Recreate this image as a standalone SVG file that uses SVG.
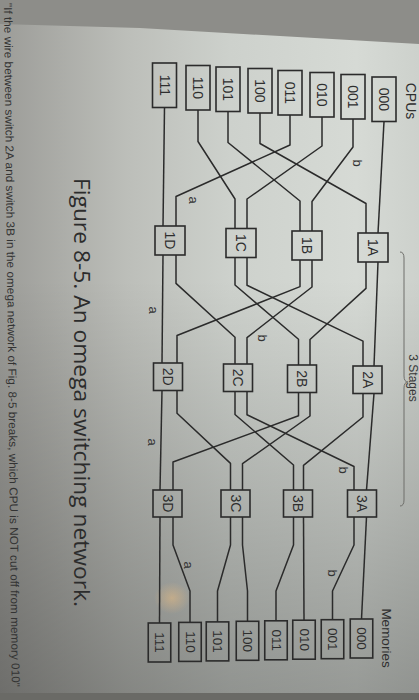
<svg xmlns="http://www.w3.org/2000/svg" width="419" height="700" viewBox="0 0 419 700">
<defs>
  <linearGradient id="bgH" x1="0" y1="0" x2="1" y2="0">
    <stop offset="0" stop-color="#9c9c98"/>
    <stop offset="0.3" stop-color="#bcbeb9"/>
    <stop offset="0.55" stop-color="#cdd1cc"/>
    <stop offset="0.85" stop-color="#d6dad5"/>
    <stop offset="1" stop-color="#cdd1cc"/>
  </linearGradient>
  <linearGradient id="bgV" x1="0" y1="0" x2="0" y2="1">
    <stop offset="0" stop-color="#000" stop-opacity="0"/>
    <stop offset="0.4" stop-color="#000" stop-opacity="0"/>
    <stop offset="1" stop-color="#000" stop-opacity="0.3"/>
  </linearGradient>
  <radialGradient id="glare" cx="0.5" cy="0.5" r="0.5">
    <stop offset="0" stop-color="#f6c27e" stop-opacity="0.45"/>
    <stop offset="1" stop-color="#f6c27e" stop-opacity="0"/>
  </radialGradient>
</defs>
<style>
  .box{fill:none;stroke:#2b2b2b;stroke-width:1.6}
  .w{fill:none;stroke:#2b2b2b;stroke-width:1.5;stroke-linejoin:round}
  .lbl{font-family:"Liberation Sans",Arial,sans-serif;font-size:14px;fill:#2e2e2e;text-anchor:middle;dominant-baseline:central}
  .mem{font-size:13.5px}
  .stg{font-size:12px;fill:#3a3a3a}
  .tag{font-family:"Liberation Sans",Arial,sans-serif;font-size:13px;fill:#333;text-anchor:middle;dominant-baseline:central}
  .title{font-family:"Open Sans","DejaVu Sans",sans-serif;font-size:21px;fill:#2c2c2c}
  .q{font-family:"Liberation Sans",Arial,sans-serif;font-size:11.5px;fill:#333}
</style>

<!-- background (photo of page) -->
<rect x="0" y="0" width="419" height="700" fill="url(#bgH)"/>
<rect x="0" y="0" width="419" height="700" fill="url(#bgV)"/>
<polygon points="0,0 419,0 419,44 140,28 0,24" fill="#8d8d89"/>
<rect x="0" y="693" width="419" height="7" fill="#6a6a66"/>
<ellipse cx="172" cy="598" rx="18" ry="16" fill="url(#glare)"/>

<!-- connectors -->
<g id="connectors">
  <!-- CPUs to stage 1 -->
  <path class="w" d="M384 121.5 L378 233"/>
  <path class="w" d="M353 119 V147 L312 201.5 V231"/>
  <path class="w" d="M322 117 V146 L247 199 V228.5"/>
  <path class="w" d="M290 115 V145 L176 196.5 V226"/>
  <path class="w" d="M260 113 V143.5 L366 203.5 V233"/>
  <path class="w" d="M228 111.5 V142.5 L300 201 V231"/>
  <path class="w" d="M198 110 V141.5 L235 199 V228.5"/>
  <path class="w" d="M164.5 107.5 L163 226"/>
  <!-- stage 1 to stage 2 -->
  <path class="w" d="M378 262 L374 366"/>
  <path class="w" d="M366 262 V288.4 L310 339.5 V365"/>
  <path class="w" d="M312 260 V287 L247 337.6 V364"/>
  <path class="w" d="M300 260 V286.6 L177 335.5 V363"/>
  <path class="w" d="M247 257.5 V285.3 L363 341.1 V366"/>
  <path class="w" d="M235 257.5 V285 L298.5 339.2 V365"/>
  <path class="w" d="M176 255 V283.4 L235 337.3 V364"/>
  <path class="w" d="M163 255 L162 363"/>
  <!-- stage 2 to stage 3 -->
  <path class="w" d="M374 393.5 L366.5 490"/>
  <path class="w" d="M363 393.5 V417 L303.5 465.3 V490"/>
  <path class="w" d="M310 392.5 V416 L242.5 463.7 V490"/>
  <path class="w" d="M298.5 392.5 V415.8 L173 462 V490"/>
  <path class="w" d="M247 391.5 V414.7 L354 466.5 V490"/>
  <path class="w" d="M235 391.5 V414.5 L293.5 465 V490"/>
  <path class="w" d="M177 390.5 V413.3 L230.5 463.4 V490"/>
  <path class="w" d="M162 390.5 L160 490"/>
  <!-- stage 3 to memories -->
  <path class="w" d="M160 517 L159.5 623"/>
  <path class="w" d="M173 517 V545 L190 591 V622.4"/>
  <path class="w" d="M230.5 517 V545 L217.5 591 V621.9"/>
  <path class="w" d="M242.5 517 V545 L247.5 591 V621.3"/>
  <path class="w" d="M293.5 517 V545 L276 591 V620.8"/>
  <path class="w" d="M303.5 517 L304 620.2"/>
  <path class="w" d="M354 517 V545 L332.5 591 V619.7"/>
  <path class="w" d="M366.5 517 L361.5 619"/>
  <!-- path labels -->
  <text class="tag" transform="translate(193,200) rotate(90)">a</text>
  <text class="tag" transform="translate(153,310) rotate(90)">a</text>
  <text class="tag" transform="translate(152,442) rotate(90)">a</text>
  <text class="tag" transform="translate(188,565) rotate(90)">a</text>
  <text class="tag" transform="translate(357,163) rotate(90)">b</text>
  <text class="tag" transform="translate(262,338) rotate(90)">b</text>
  <text class="tag" transform="translate(343,470) rotate(90)">b</text>
  <text class="tag" transform="translate(332,573) rotate(90)">b</text>
</g>

<!-- CPUs -->
<text class="lbl" transform="translate(411,101) rotate(90)">CPUs</text>
<g id="cpu-000"><rect class="box" x="372" y="77" width="24" height="44.5"/><text class="lbl" transform="translate(384,99.3) rotate(90)">000</text></g>
<g id="cpu-001"><rect class="box" x="341" y="74.5" width="24" height="44.5"/><text class="lbl" transform="translate(353,96.8) rotate(90)">001</text></g>
<g id="cpu-010"><rect class="box" x="310" y="72.5" width="24" height="44.5"/><text class="lbl" transform="translate(322,94.8) rotate(90)">010</text></g>
<g id="cpu-011"><rect class="box" x="278" y="70.5" width="24" height="44.5"/><text class="lbl" transform="translate(290,92.8) rotate(90)">011</text></g>
<g id="cpu-100"><rect class="box" x="248" y="68.5" width="24" height="44.5"/><text class="lbl" transform="translate(260,90.8) rotate(90)">100</text></g>
<g id="cpu-101"><rect class="box" x="216" y="67" width="24" height="44.5"/><text class="lbl" transform="translate(228,89.3) rotate(90)">101</text></g>
<g id="cpu-110"><rect class="box" x="186" y="65.5" width="24" height="44.5"/><text class="lbl" transform="translate(198,87.8) rotate(90)">110</text></g>
<g id="cpu-111"><rect class="box" x="152.5" y="63" width="24" height="44.5"/><text class="lbl" transform="translate(164.5,85.3) rotate(90)">111</text></g>

<!-- Stage 1 -->
<g id="sw-1A"><rect class="box" x="358" y="233" width="30" height="29"/><text class="lbl" transform="translate(373,247.5) rotate(90)">1A</text></g>
<g id="sw-1B"><rect class="box" x="292" y="231" width="30" height="29"/><text class="lbl" transform="translate(307,245.5) rotate(90)">1B</text></g>
<g id="sw-1C"><rect class="box" x="226" y="228.5" width="30" height="29"/><text class="lbl" transform="translate(241,243) rotate(90)">1C</text></g>
<g id="sw-1D"><rect class="box" x="155" y="226" width="30" height="29"/><text class="lbl" transform="translate(170,240.5) rotate(90)">1D</text></g>

<!-- Stage 2 -->
<g id="sw-2A"><rect class="box" x="353" y="366" width="29" height="27.5"/><text class="lbl" transform="translate(367.5,379.75) rotate(90)">2A</text></g>
<g id="sw-2B"><rect class="box" x="287.5" y="365" width="29" height="27.5"/><text class="lbl" transform="translate(302,378.75) rotate(90)">2B</text></g>
<g id="sw-2C"><rect class="box" x="223.5" y="364" width="29" height="27.5"/><text class="lbl" transform="translate(238,377.75) rotate(90)">2C</text></g>
<g id="sw-2D"><rect class="box" x="153.5" y="363" width="29" height="27.5"/><text class="lbl" transform="translate(168,376.75) rotate(90)">2D</text></g>

<!-- Stage 3 -->
<g id="sw-3A"><rect class="box" x="347.5" y="490" width="29" height="27"/><text class="lbl" transform="translate(362,503.5) rotate(90)">3A</text></g>
<g id="sw-3B"><rect class="box" x="283.5" y="490" width="29" height="27"/><text class="lbl" transform="translate(298,503.5) rotate(90)">3B</text></g>
<g id="sw-3C"><rect class="box" x="221" y="490" width="29" height="27"/><text class="lbl" transform="translate(235.5,503.5) rotate(90)">3C</text></g>
<g id="sw-3D"><rect class="box" x="153" y="490" width="29" height="27"/><text class="lbl" transform="translate(167.5,503.5) rotate(90)">3D</text></g>

<!-- Stages brace -->
<g id="stages">
  <path d="M400 252 Q404 252 404 258 L404 376 Q404 382 408 382 Q404 382 404 388 L404 500 Q404 506 400 506" fill="none" stroke="#6e6e6a" stroke-width="1"/>
  <text class="lbl stg" transform="translate(413,378) rotate(90)">3 Stages</text>
</g>

<!-- Memories -->
<text class="lbl mem" transform="translate(386,638) rotate(90)">Memories</text>
<g id="mem-000"><rect class="box" x="350.25" y="619" width="22.5" height="39"/><text class="lbl mem" transform="translate(361.5,638.5) rotate(90)">000</text></g>
<g id="mem-001"><rect class="box" x="321.25" y="619.7" width="22.5" height="39"/><text class="lbl mem" transform="translate(332.5,639.2) rotate(90)">001</text></g>
<g id="mem-010"><rect class="box" x="292.75" y="620.2" width="22.5" height="39"/><text class="lbl mem" transform="translate(304,639.7) rotate(90)">010</text></g>
<g id="mem-011"><rect class="box" x="264.75" y="620.8" width="22.5" height="39"/><text class="lbl mem" transform="translate(276,640.3) rotate(90)">011</text></g>
<g id="mem-100"><rect class="box" x="236.25" y="621.3" width="22.5" height="39"/><text class="lbl mem" transform="translate(247.5,640.8) rotate(90)">100</text></g>
<g id="mem-101"><rect class="box" x="206.25" y="621.9" width="22.5" height="39"/><text class="lbl mem" transform="translate(217.5,641.4) rotate(90)">101</text></g>
<g id="mem-110"><rect class="box" x="178.75" y="622.4" width="22.5" height="39"/><text class="lbl mem" transform="translate(190,641.9) rotate(90)">110</text></g>
<g id="mem-111"><rect class="box" x="148.25" y="623" width="22.5" height="39"/><text class="lbl mem" transform="translate(159.5,642.5) rotate(90)">111</text></g>

<!-- Caption and question -->
<text class="title" transform="translate(74,178) rotate(90)" textLength="429" lengthAdjust="spacingAndGlyphs">Figure 8-5. An omega switching network.</text>
<text class="q" transform="translate(4,3) rotate(89.35)" textLength="684" lengthAdjust="spacingAndGlyphs">"If the wire between switch 2A and switch 3B in the omega network of Fig. 8-5 breaks, which CPU is NOT cut off from memory 010"</text>
</svg>
